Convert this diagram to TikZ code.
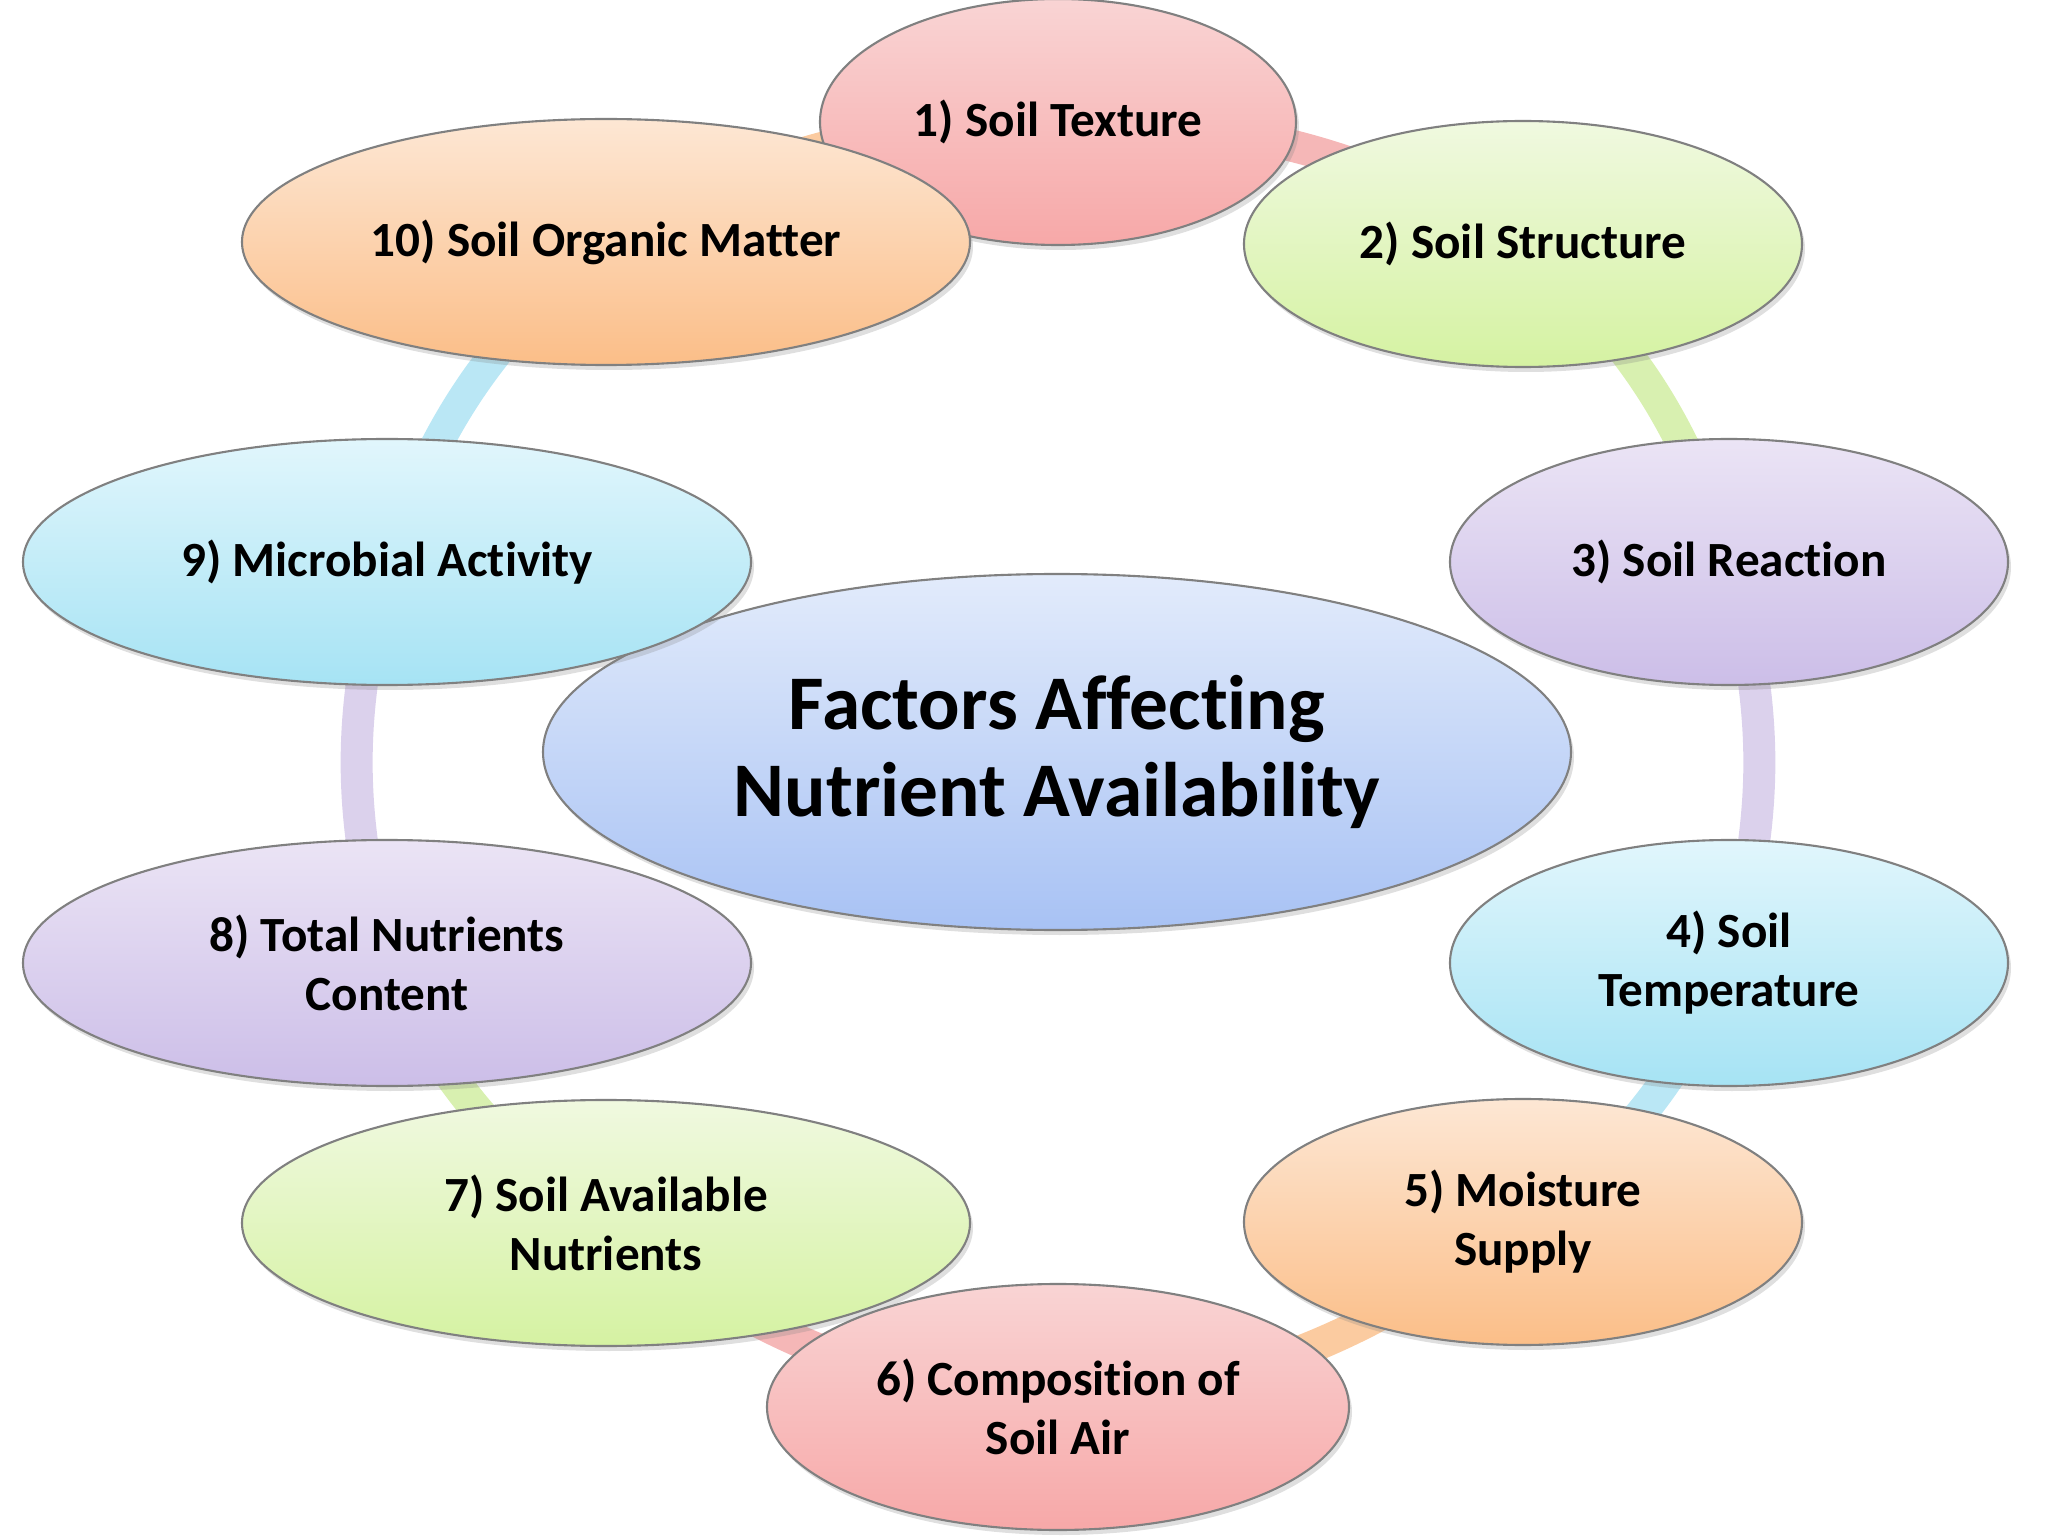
\documentclass[tikz,border=0pt]{standalone}
\usepackage{fontspec}
\setmainfont{Carlito}[Ligatures=NoCommon]
\usetikzlibrary{shapes.geometric,shadows,backgrounds}

\definecolor{pinkTop}{HTML}{F9D4D4}
\definecolor{pinkBot}{HTML}{F7A8A8}
\definecolor{pinkLine}{HTML}{F5B7B7}
\definecolor{greenTop}{HTML}{F0F9E0}
\definecolor{greenBot}{HTML}{D5F2A2}
\definecolor{greenLine}{HTML}{D8F0B0}
\definecolor{purpleTop}{HTML}{EBE4F5}
\definecolor{purpleBot}{HTML}{CCBEE8}
\definecolor{purpleLine}{HTML}{DBD1EC}
\definecolor{cyanTop}{HTML}{E1F6FC}
\definecolor{cyanBot}{HTML}{A6E3F4}
\definecolor{cyanLine}{HTML}{BAE7F5}
\definecolor{orangeTop}{HTML}{FDE7D4}
\definecolor{orangeBot}{HTML}{FBBE88}
\definecolor{orangeLine}{HTML}{FBCBA0}
\definecolor{blueTop}{HTML}{E2EBFB}
\definecolor{blueBot}{HTML}{A8C2F4}

\begin{document}
\begin{tikzpicture}[
  factor/.style={ellipse, draw=black!50, line width=0.6pt, inner sep=0pt,
    minimum height=2.46cm, align=center, top color=#1Top, bottom color=#1Bot,
    font=\fontsize{14}{16.8}\selectfont\bfseries,
    drop shadow={shadow xshift=0.03cm, shadow yshift=-0.05cm, opacity=0.25}},
  ring/.style={line width=0.32cm, draw=#1Line}
]
\useasboundingbox (0,0) rectangle (20.48,-15.36);
% Centre
\node[factor=blue, minimum width=10.28cm, minimum height=3.56cm,
  font=\fontsize{22}{24.5}\selectfont\bfseries] (core) at (10.57,-7.52) {Factors Affecting\\Nutrient Availability};
% Factors
\node[factor=pink, minimum width=4.76cm] (texture) at (10.58,-1.22) {1) Soil Texture};
\node[factor=green, minimum width=5.58cm] (structure) at (15.23,-2.44) {2) Soil Structure};
\node[factor=purple, minimum width=5.58cm] (reaction) at (17.29,-5.62) {3) Soil Reaction};
\node[factor=cyan, minimum width=5.58cm] (temperature) at (17.29,-9.63) {4) Soil\\Temperature};
\node[factor=orange, minimum width=5.58cm] (moisture) at (15.23,-12.22) {5) Moisture\\Supply};
\node[factor=green, minimum width=7.28cm] (available) at (6.06,-12.23) {7) Soil Available\\Nutrients};
\node[factor=pink, minimum width=5.82cm] (air) at (10.58,-14.07) {6) Composition of\\Soil Air};
\node[factor=purple, minimum width=7.28cm] (total) at (3.87,-9.63) {8) Total Nutrients\\Content};
\node[factor=cyan, minimum width=7.28cm] (microbial) at (3.87,-5.62) {9) Microbial Activity};
\node[factor=orange, minimum width=7.28cm] (organic) at (6.06,-2.42) {10) Soil Organic Matter};
% Ring
\begin{scope}[on background layer]
\draw[ring=pink] (texture.center) to[bend left=15] (structure.center);
\draw[ring=green] (structure.center) to[bend left=15] (reaction.center);
\draw[ring=purple] (reaction.center) to[bend left=15] (temperature.center);
\draw[ring=cyan] (temperature.center) to[bend left=15] (moisture.center);
\draw[ring=orange] (moisture.center) to[bend left=15] (air.center);
\draw[ring=pink] (air.center) to[bend left=15] (available.center);
\draw[ring=green] (available.center) to[bend left=15] (total.center);
\draw[ring=purple] (total.center) to[bend left=15] (microbial.center);
\draw[ring=cyan] (microbial.center) to[bend left=15] (organic.center);
\draw[ring=orange] (organic.center) to[bend left=15] (texture.center);
\end{scope}
\end{tikzpicture}
\end{document}
